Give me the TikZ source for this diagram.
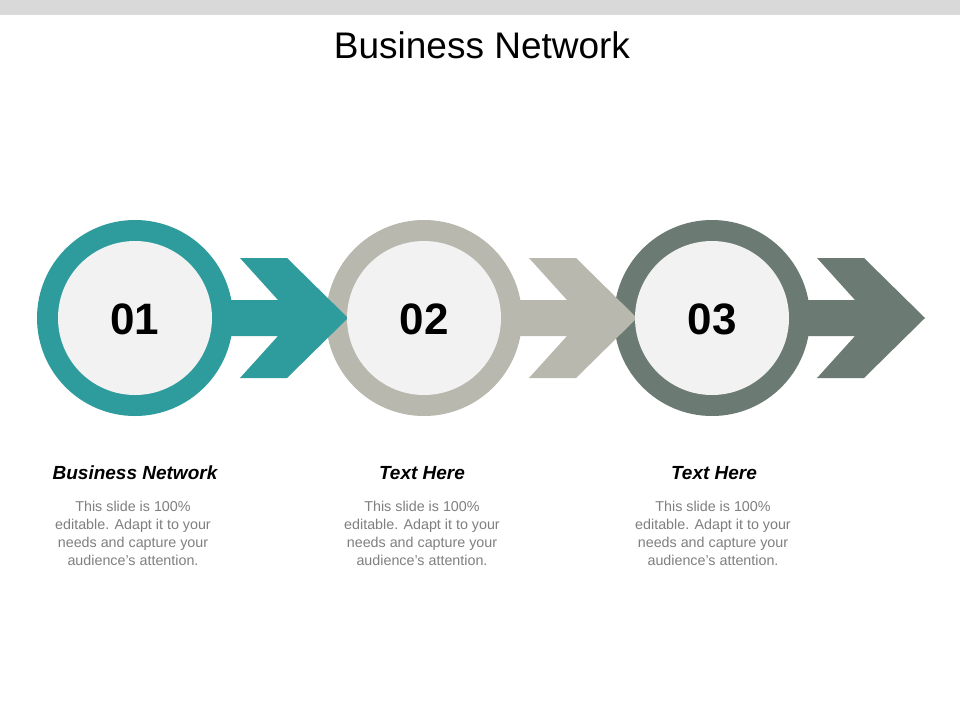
\documentclass[tikz,border=0pt]{standalone}
\usepackage{fontspec}
\setmainfont{Liberation Sans}
\definecolor{cA}{HTML}{2E9B9C}
\definecolor{cB}{HTML}{B8B8AE}
\definecolor{cC}{HTML}{6B7B73}
\definecolor{inner}{HTML}{F2F2F2}
\definecolor{bodyc}{HTML}{7F7F7F}
\begin{document}
\begin{tikzpicture}[x=1pt,y=-1pt,
  num/.style={font=\fontsize{44}{44}\selectfont\bfseries},
  head/.style={font=\fontsize{19}{22}\selectfont\bfseries\itshape},
  bodytxt/.style={font=\fontsize{14.3}{18}\selectfont, text=bodyc, align=center},
  ttl/.style={font=\fontsize{37}{40}\selectfont}]
\useasboundingbox (0,0) rectangle (960,720);
\fill[white] (0,0) rectangle (960,720);
\fill[black!15] (0,0) rectangle (960,15);
\node[ttl] (title) at (482,45) {Business Network};
\foreach \cx/\col in {135/cA,424/cB,712/cC}{
  \fill[\col] (\cx,318) circle[radius=98];
}
\foreach \cx/\col in {135/cA,424/cB,712/cC}{
  \fill[\col] (\cx+80,300) -- (\cx+143,300) -- (\cx+105,258) -- (\cx+152,258) -- (\cx+213,318)
     -- (\cx+152,378) -- (\cx+105,378) -- (\cx+143,336) -- (\cx+80,336) -- cycle;
}
\foreach \cx/\t [count=\i] in {135/01,424/02,712/03}{
  \fill[inner] (\cx,318) circle[radius=77];
  \node[num] (n\i) at (\cx,319) {\t};
}
\node[head] (h1) at (135,473) {Business Network};
\node[head] (h2) at (422,473) {Text Here};
\node[head] (h3) at (714,473) {Text Here};
\foreach \cx [count=\i] in {133,422,713}{
  \node[bodytxt] (b\i) at (\cx,533) {This slide is 100\%\\editable. Adapt it to your\\needs and capture your\\audience's attention.};
}
\end{tikzpicture}
\end{document}
